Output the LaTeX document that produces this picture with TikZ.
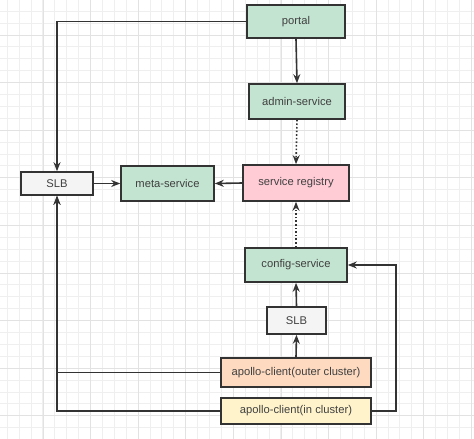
\documentclass[tikz,border=0pt]{standalone}
\usepackage{fontspec}
\setmainfont{Liberation Sans}
\usetikzlibrary{arrows.meta}
\definecolor{gminor}{HTML}{EFEFEF}
\definecolor{gmajor}{HTML}{E2E2E2}
\definecolor{cgreen}{HTML}{C3E4D0}
\definecolor{cpink}{HTML}{FFCCD6}
\definecolor{cgray}{HTML}{F4F4F4}
\definecolor{corange}{HTML}{FDDAC0}
\definecolor{cyellow}{HTML}{FFF3CB}
\definecolor{cline}{HTML}{333333}
\definecolor{ctext}{HTML}{404040}
\tikzset{
  box/.style={draw=cline, line width=1.6pt, text=ctext, font=\fontsize{11.2pt}{13pt}\selectfont, inner sep=0pt, anchor=center},
  arr/.style={draw=cline, line width=1.6pt, -{Stealth[length=9pt,width=7pt]}},
  dotarr/.style={arr, dotted}
}
\begin{document}
\begin{tikzpicture}[x=1pt,y=-1pt]
\useasboundingbox (0,0) rectangle (474,439);
\fill[white] (0,0) rectangle (474,439);
\foreach \i in {0,...,40} {
  \pgfmathsetmacro{\gx}{7+11.9*\i}
  \draw[gminor, line width=0.6pt] (\gx,0) -- (\gx,439);
  \pgfmathsetmacro{\gy}{11+11.9*\i}
  \draw[gminor, line width=0.6pt] (0,\gy) -- (474,\gy);
}
\foreach \i in {0,...,10} {
  \pgfmathsetmacro{\gx}{-4.6+47.6*\i}
  \draw[gmajor, line width=0.8pt] (\gx,0) -- (\gx,439);
  \pgfmathsetmacro{\gy}{35+47.6*(\i-1)}
  \draw[gmajor, line width=0.8pt] (0,\gy) -- (474,\gy);
}
\node[box, fill=cgreen, minimum width=98pt, minimum height=33pt] (portal) at (296,21.5) {portal};
\node[box, fill=cgreen, minimum width=96pt, minimum height=35pt] (admin) at (297,101.5) {admin-service};
\node[box, fill=cpink, minimum width=106pt, minimum height=36pt] (reg) at (296,183) {service registry};
\node[box, fill=cgreen, minimum width=93pt, minimum height=35pt] (meta) at (167.5,183.5) {meta-service};
\node[box, fill=cgray, minimum width=72pt, minimum height=23pt] (slba) at (57,183.5) {SLB};
\node[box, fill=cgreen, minimum width=102pt, minimum height=34pt] (config) at (296,265) {config-service};
\node[box, fill=cgray, minimum width=59pt, minimum height=27pt] (slbb) at (296.5,320.5) {SLB};
\node[box, fill=corange, minimum width=150pt, minimum height=29pt] (outer) at (296,372.5) {apollo-client(outer cluster)};
\node[box, fill=cyellow, minimum width=150pt, minimum height=26pt] (inner) at (296,411) {apollo-client(in cluster)};
\coordinate (rt) at (396,411);
\draw[arr] (portal.west) -| (slba.north);
\draw[arr] (portal.south) -- (admin.north);
\draw[dotarr] (admin.south) -- (reg.north);
\draw[arr] (reg.west) -- (meta.east);
\draw[arr] (slba.east) -- (meta.west);
\draw[dotarr] (config.north) -- (reg.south);
\draw[arr] (slbb.north) -- (config.south);
\draw[arr] (outer.north) -- (slbb.south);
\draw[arr] (outer.west) -| (slba.south);
\draw[arr] (inner.west) -| (slba.south);
\draw[arr] (inner.east) -- (rt) |- (config.east);
\end{tikzpicture}
\end{document}
